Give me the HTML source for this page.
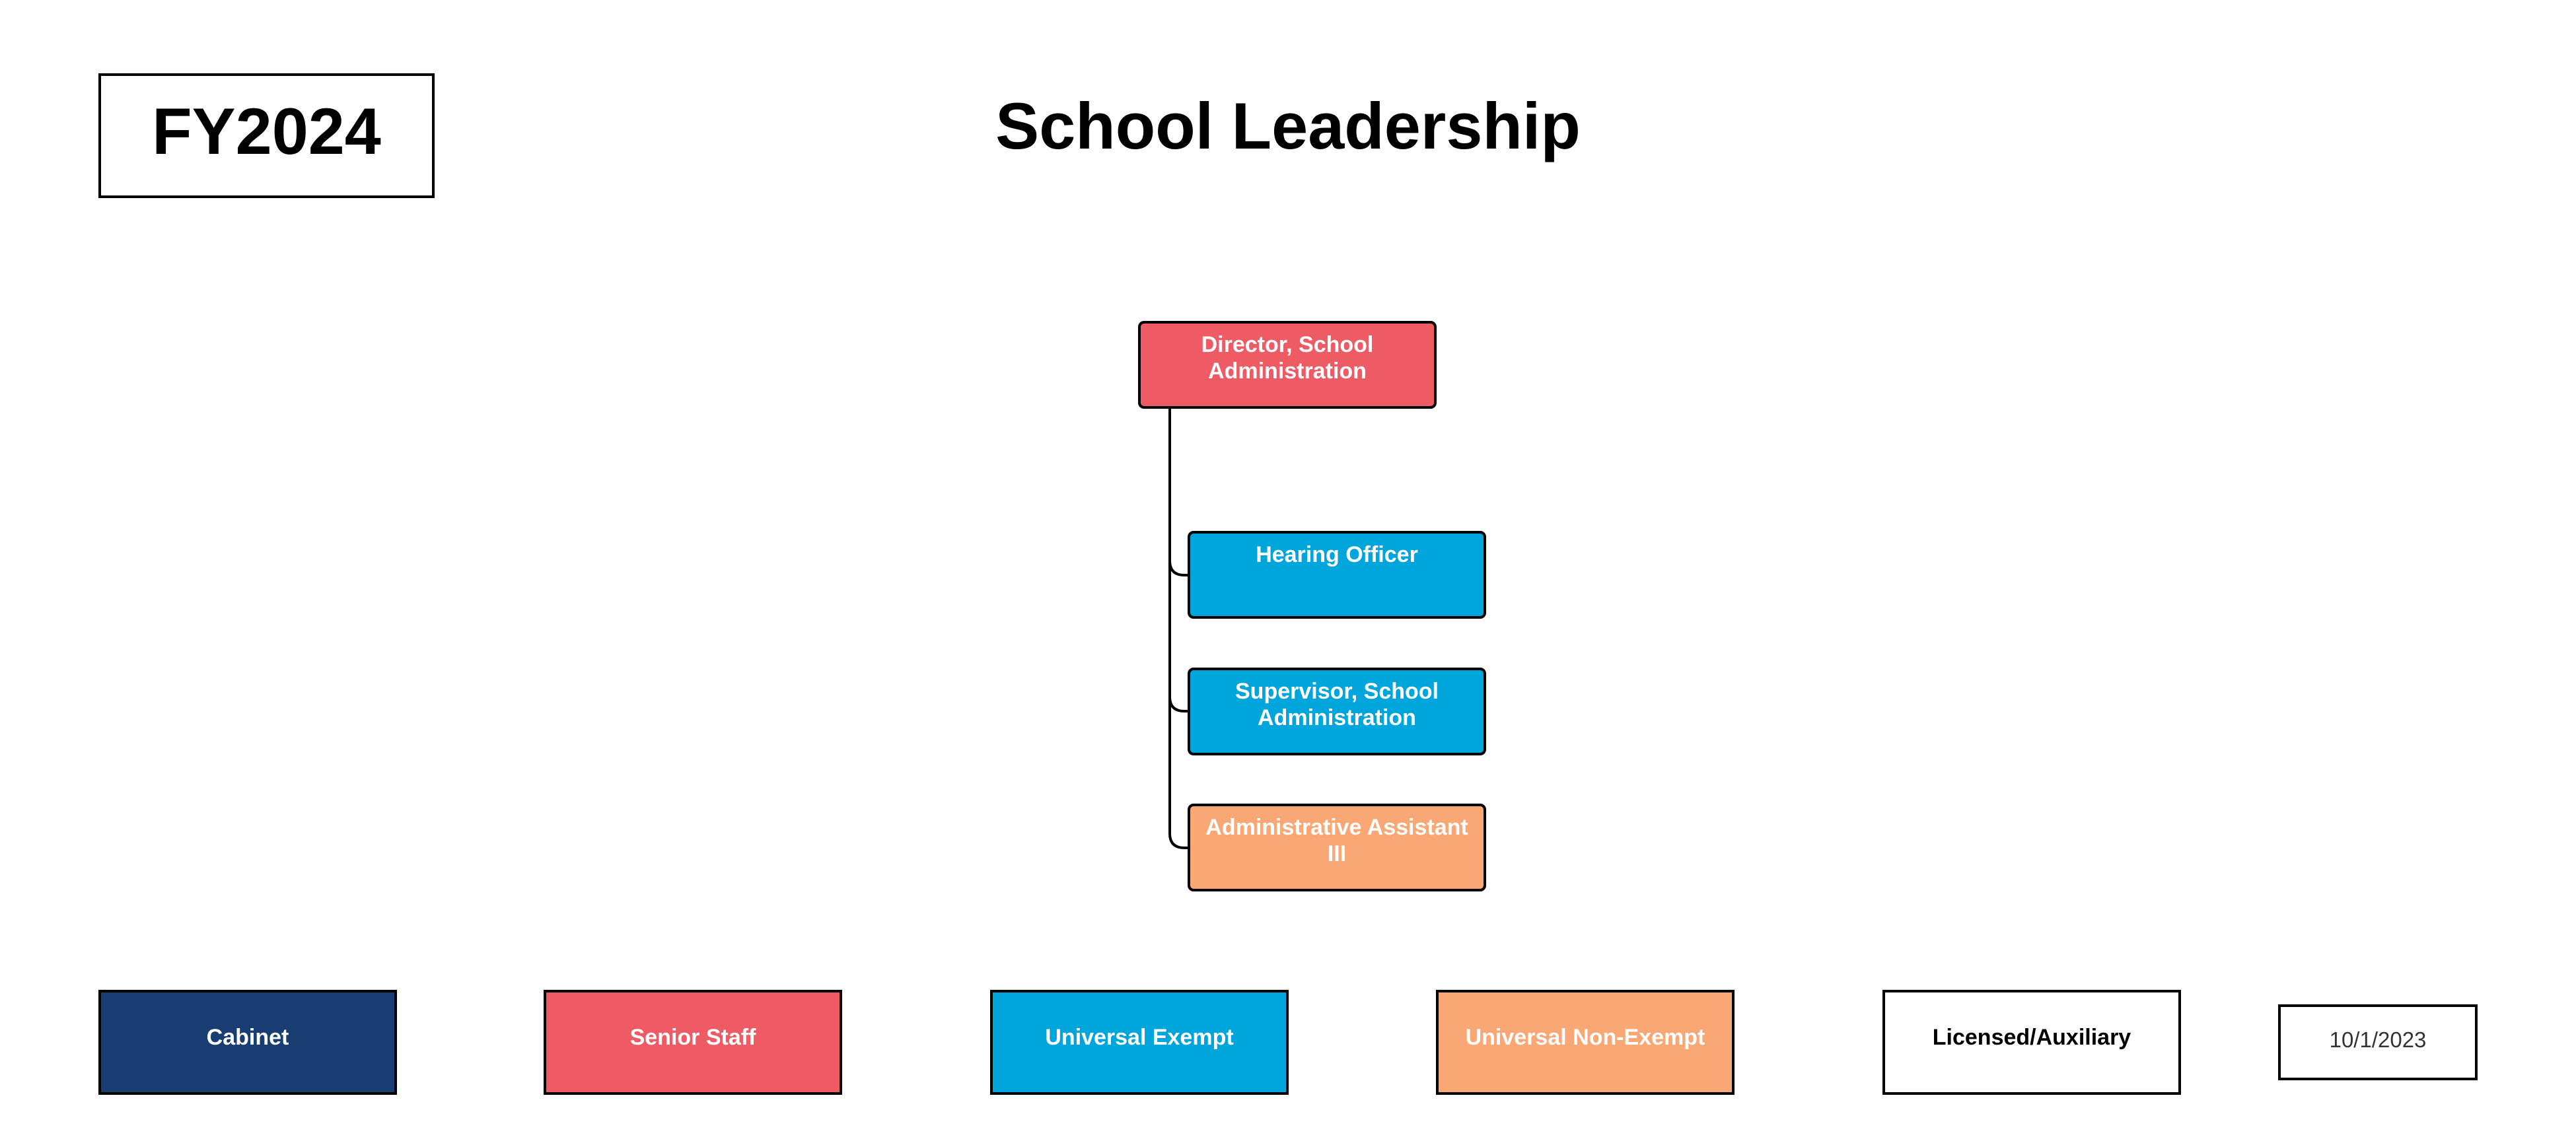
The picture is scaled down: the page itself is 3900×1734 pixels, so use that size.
<!DOCTYPE html>
<html><head><meta charset="utf-8"><style>
html,body{margin:0;padding:0;background:#fff;}
body{width:3900px;height:1734px;position:relative;overflow:hidden;font-family:"Liberation Sans",Arial,sans-serif;}
.a{position:absolute;box-sizing:border-box;}
.node{border:4px solid #000;border-radius:9px;color:#fff;font-weight:bold;font-size:34px;line-height:40px;text-align:center;padding-top:12px;}
.leg{border:4px solid #000;font-weight:bold;font-size:34px;display:flex;align-items:center;justify-content:center;color:#fff;padding-bottom:14px;}
</style></head><body>
<div class="a" style="left:149px;top:111px;width:509px;height:189px;border:4px solid #000;display:flex;align-items:center;justify-content:center;font-weight:bold;font-size:99px;padding-bottom:14px;">FY2024</div>
<div class="a" style="left:1250px;top:121px;width:1400px;text-align:center;font-weight:bold;font-size:99px;line-height:140px;">School Leadership</div>

<svg class="a" style="left:0;top:0" width="3900" height="1734">
<g fill="none" stroke="#000" stroke-width="4">
<path d="M1771 615 V1262 Q1771 1284 1793 1284 H1801"/>
<path d="M1771 849 Q1771 871 1793 871 H1801"/>
<path d="M1771 1055 Q1771 1077 1793 1077 H1801"/>
</g></svg>

<div class="a node" style="left:1723px;top:486px;width:452px;height:133px;background:#EF5B64;">Director, School<br>Administration</div>
<div class="a node" style="left:1798px;top:804px;width:452px;height:133px;background:#00A5DB;">Hearing Officer</div>
<div class="a node" style="left:1798px;top:1011px;width:452px;height:133px;background:#00A5DB;">Supervisor, School<br>Administration</div>
<div class="a node" style="left:1798px;top:1217px;width:452px;height:133px;background:#F9A875;">Administrative Assistant<br>III</div>

<div class="a leg" style="left:149px;top:1499px;width:452px;height:159px;background:#173D73;">Cabinet</div>
<div class="a leg" style="left:823px;top:1499px;width:452px;height:159px;background:#EF5B64;">Senior Staff</div>
<div class="a leg" style="left:1499px;top:1499px;width:452px;height:159px;background:#00A5DB;">Universal Exempt</div>
<div class="a leg" style="left:2174px;top:1499px;width:452px;height:159px;background:#F9A875;">Universal Non-Exempt</div>
<div class="a leg" style="left:2850px;top:1499px;width:452px;height:159px;background:#fff;color:#000;">Licensed/Auxiliary</div>
<div class="a" style="left:3449px;top:1521px;width:302px;height:115px;border:4px solid #000;display:flex;align-items:center;justify-content:center;font-size:33px;color:#333;padding-bottom:8px;">10/1/2023</div>
</body></html>
